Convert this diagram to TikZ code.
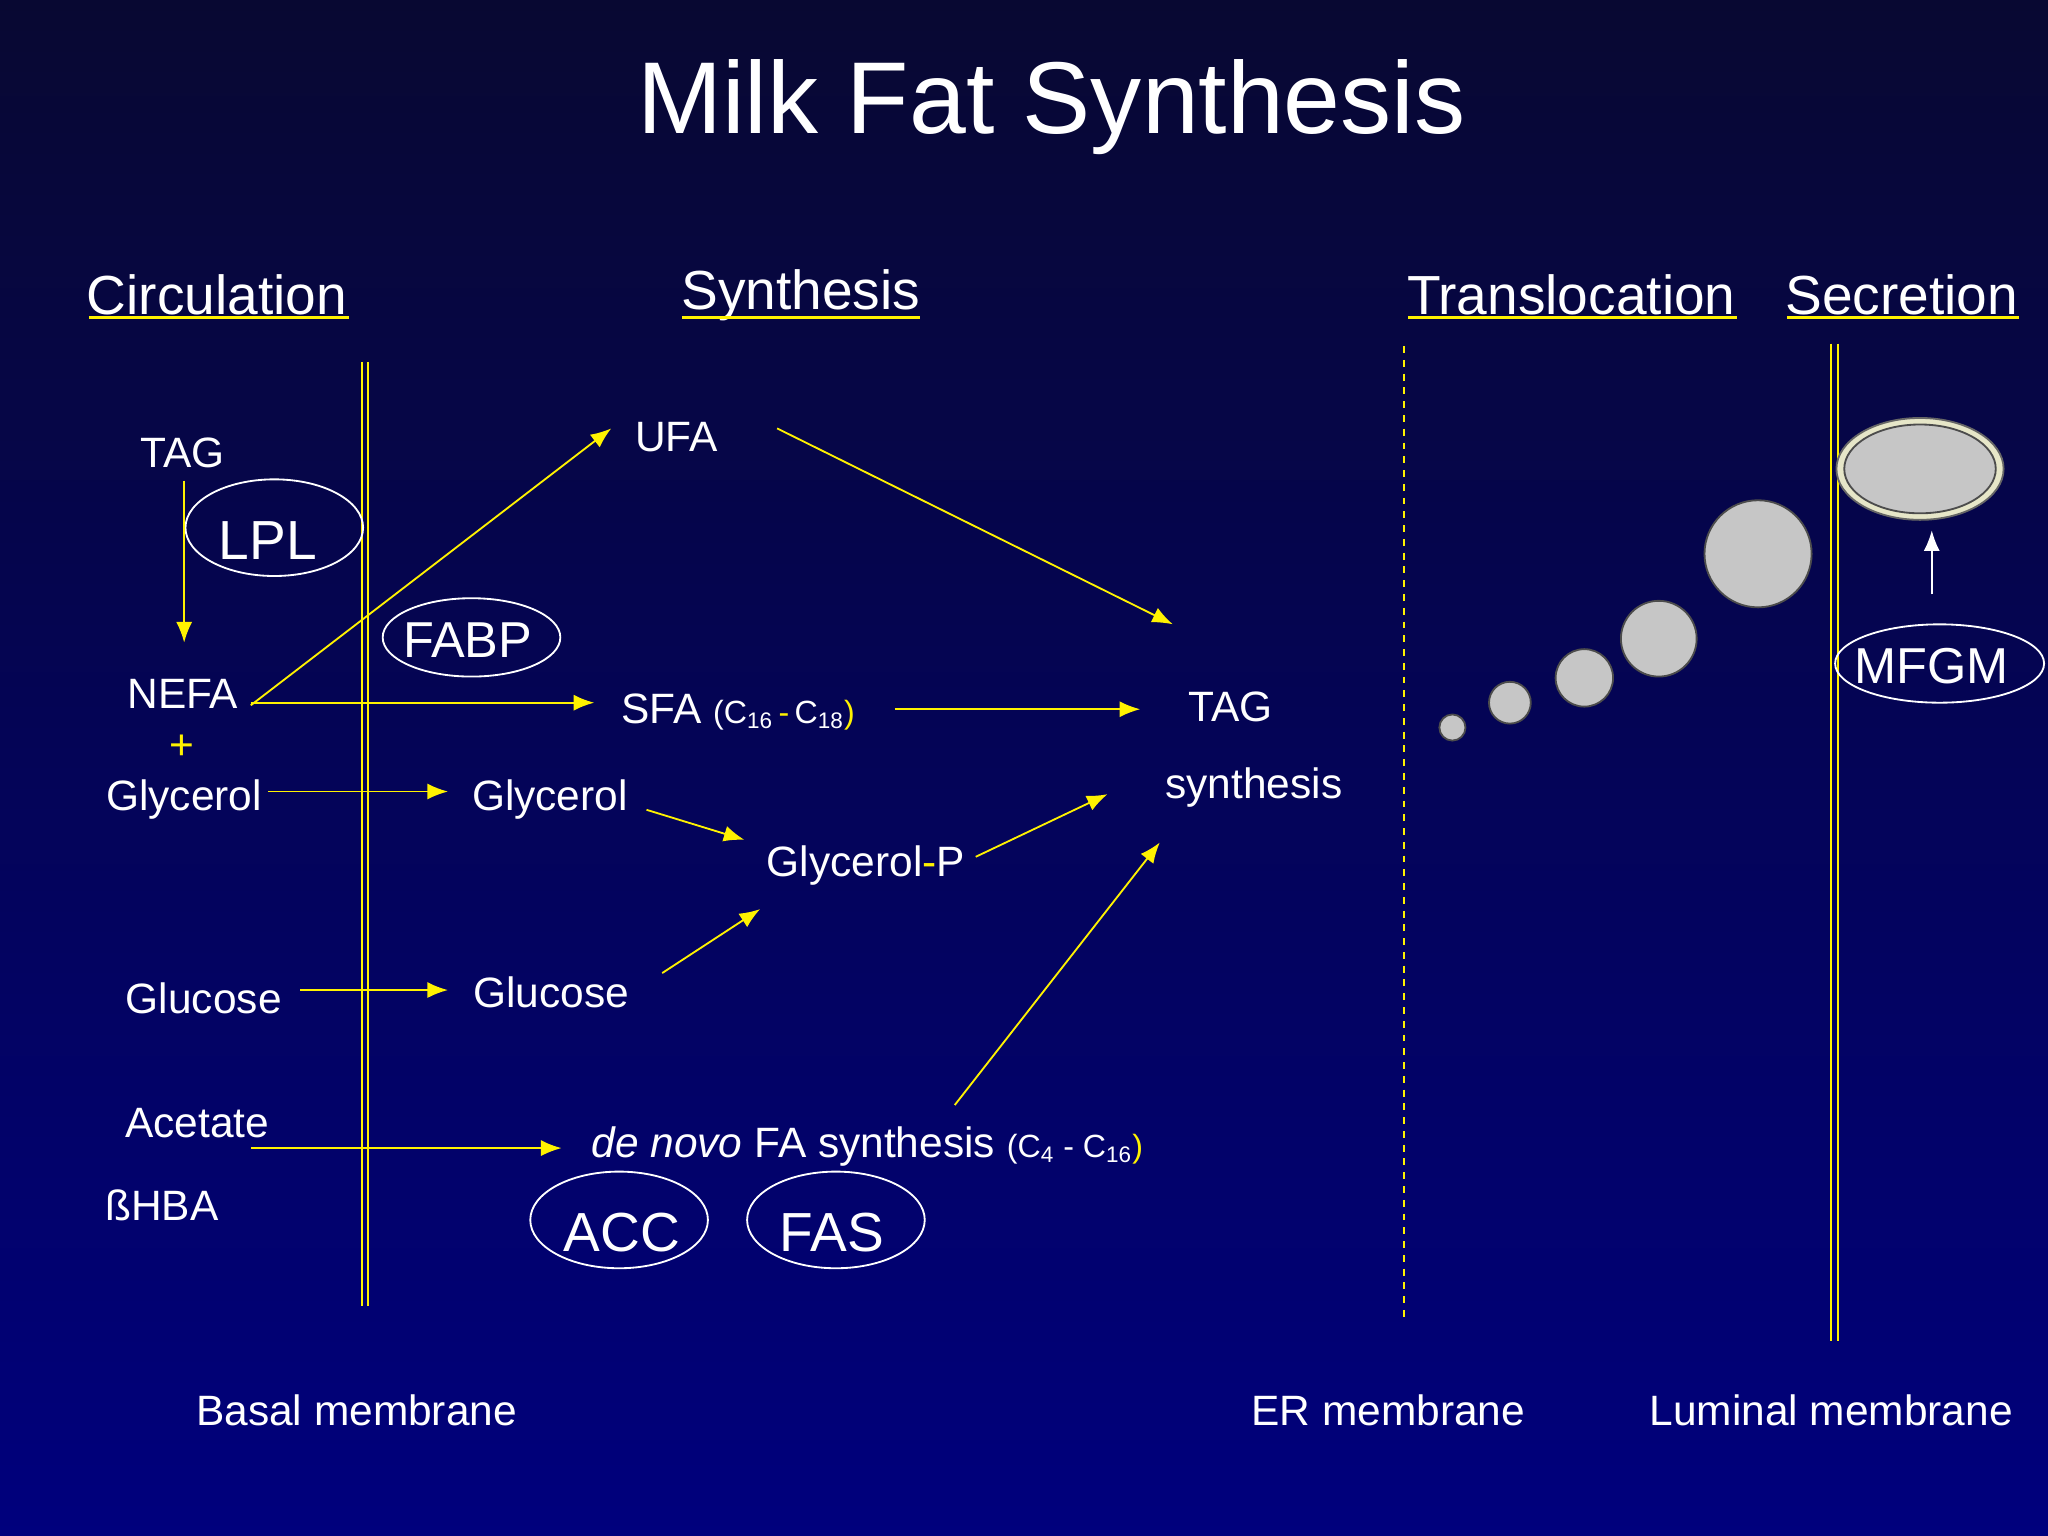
\documentclass[tikz,border=0pt]{standalone}
\usepackage{fontspec}
\setmainfont{Liberation Sans}
\begin{document}
\begin{tikzpicture}[x=0.02cm,y=-0.02cm,
  txt/.style={text=white,font=\fontsize{18.5}{21}\selectfont,inner sep=1pt},
  hdr/.style={text=white,font=\fontsize{24}{28}\selectfont,inner sep=0pt},
  ya/.style={draw=yellow,-{Latex[length=9pt,width=7pt]},thick},
  ul/.style={draw=yellow,line width=1.5pt},
  drop/.style={fill=gray!45,draw=black!70,thick}]
\usetikzlibrary{arrows.meta,shapes.geometric}
\shade[top color={rgb,255:red,8;green,8;blue,50},bottom color={rgb,255:red,0;green,0;blue,125}] (0,0) rectangle (1568,1176);
\useasboundingbox (0,0) rectangle (1568,1176);
\node[text=white,font=\fontsize{44.5}{50}\selectfont] (title) at (805,82) {Milk Fat Synthesis};
\node[hdr] (h1) at (166,226) {Circulation};
\node[hdr] (h2) at (613,226) {Synthesis};
\node[hdr] (h3) at (1203,226) {Translocation};
\node[hdr] (h4) at (1456,226) {Secretion};
\draw[ul] (68,243)--(267,243) (522,243)--(704,243) (1078,243)--(1330,243) (1368,243)--(1546,243);
% membranes
\draw[yellow,thick] (277,277)--(277,1000) (282,277)--(282,1000);
\draw[yellow,thick,dashed] (1075,265)--(1075,1010);
\draw[yellow,thick] (1402,263)--(1402,1027) (1407,263)--(1407,1027);
% circulation
\node[txt] (tag) at (140,347) {TAG};
\draw[white,thick] (210,404) ellipse (68 and 37);
\node[text=white,font=\fontsize{24}{28}\selectfont] (lplt) at (205,414) {LPL};
\coordinate (tagb) at (141,368); \coordinate (nefat) at (141,492);
\draw[ya] (tagb)--(nefat);
\node[txt] (nefa) at (140,531) {NEFA};
\node[text=yellow,font=\fontsize{18.5}{21}\selectfont] (plus) at (139,572) {+};
\node[txt] (gly1) at (141,612) {Glycerol};
\node[txt] (glu1) at (156,764) {Glucose};
\node[txt] (ace) at (151,860) {Acetate};
\node[txt] (hba) at (124,923) {ßHBA};
\draw[white,thick] (361,488) ellipse (68 and 30);
\node[text=white,font=\fontsize{22}{26}\selectfont] (fabp) at (358,490) {FABP};
% synthesis
\node[txt] (ufa) at (518,335) {UFA};
\node[txt] (sfa) at (565,545) {SFA {\fontsize{14}{16}\selectfont(C\textsubscript{16}\,\textcolor{yellow}{-}\,C\textsubscript{18}\textcolor{yellow}{)}}};
\node[txt] (tag2) at (942,541) {TAG};
\node[txt] (syn) at (960,603) {synthesis};
\node[txt] (gly2) at (421,612) {Glycerol};
\node[txt] (glyp) at (663,663) {Glycerol\textcolor{yellow}{-}P};
\node[txt] (glu2) at (422,760) {Glucose};
\node[txt] (dn) at (664,878) {\textit{de novo} FA synthesis {\fontsize{14}{16}\selectfont(C\textsubscript{4} - C\textsubscript{16}\textcolor{yellow}{)}}};
\draw[white,thick] (474,934) ellipse (68 and 37) (640,934) ellipse (68 and 37);
\node[text=white,font=\fontsize{24}{28}\selectfont] (acc) at (476,944) {ACC};
\node[text=white,font=\fontsize{24}{28}\selectfont] (fas) at (637,944) {FAS};
% arrows
\coordinate (n1) at (192,540); \coordinate (u1) at (468,328);
\draw[ya] (n1)--(u1);
\coordinate (n2) at (192,538); \coordinate (s1) at (455,538);
\draw[ya] (n2)--(s1);
\coordinate (s2) at (685,543); \coordinate (t1) at (873,543);
\draw[ya] (s2)--(t1);
\coordinate (u2) at (595,328); \coordinate (t2) at (898,478);
\draw[ya] (u2)--(t2);
\coordinate (g1) at (205,606); \coordinate (g2) at (343,606);
\draw[ya] (g1)--(g2);
\coordinate (g3) at (495,620); \coordinate (p1) at (570,643);
\draw[ya] (g3)--(p1);
\coordinate (p2) at (747,656); \coordinate (t3) at (848,608);
\draw[ya] (p2)--(t3);
\coordinate (c1) at (230,758); \coordinate (c2) at (343,758);
\draw[ya] (c1)--(c2);
\coordinate (c3) at (507,745); \coordinate (p3) at (582,696);
\draw[ya] (c3)--(p3);
\coordinate (a1) at (192,879); \coordinate (d1) at (430,879);
\draw[ya] (a1)--(d1);
\coordinate (d2) at (731,846); \coordinate (t4) at (888,645);
\draw[ya] (d2)--(t4);
% droplets
\draw[drop] (1112,557) circle (10) (1156,538) circle (16) (1213,519) circle (22) (1270,489) circle (29) (1346,424) circle (41);
\draw[draw=black!60,fill={rgb,255:red,230;green,230;blue,200},thick] (1470,359) ellipse (64 and 39);
\draw[drop] (1470,359) ellipse (58 and 34);
\coordinate (m1) at (1479,455); \coordinate (m2) at (1479,406);
\draw[white,thick,-{Latex[length=9pt,width=7pt]}] (m1)--(m2);
\draw[white,thick] (1485,508) ellipse (80 and 30);
\node[text=white,font=\fontsize{22}{26}\selectfont] (mfgm) at (1479,510) {MFGM};
% bottom
\node[txt] (bm) at (273,1080) {Basal membrane};
\node[txt] (erm) at (1063,1080) {ER membrane};
\node[txt] (lm) at (1402,1080) {Luminal membrane};
\end{tikzpicture}
\end{document}
